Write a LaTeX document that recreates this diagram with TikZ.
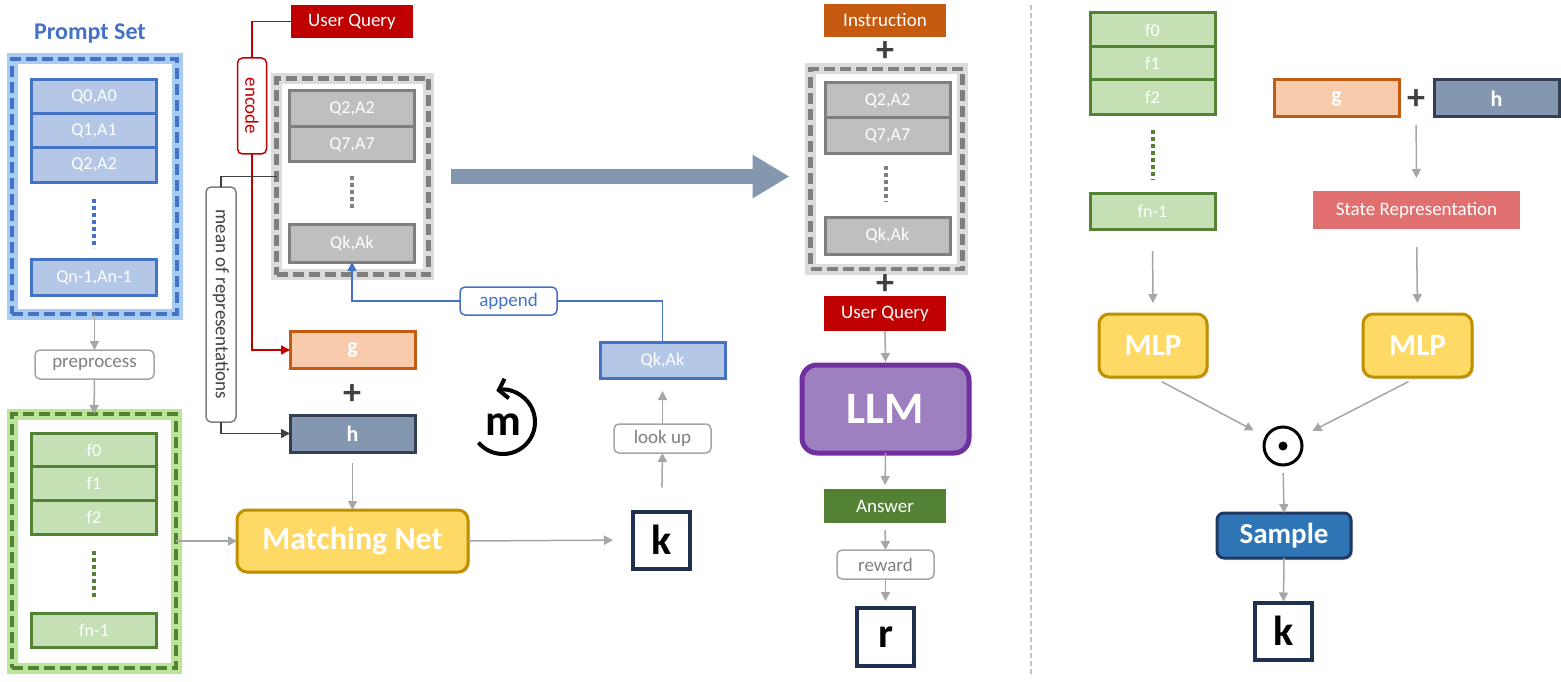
\documentclass[tikz,border=0pt]{standalone}
\usepackage{fontspec}
\usepackage{graphicx}
\setmainfont{Carlito}
\usetikzlibrary{arrows.meta,shadows}
\definecolor{cblue}{HTML}{4472C4}
\definecolor{cbluel}{HTML}{B4C7E7}
\definecolor{cblueg}{HTML}{A9CDF0}
\definecolor{cgreen}{HTML}{548235}
\definecolor{cgreenl}{HTML}{C5E0B4}
\definecolor{cgreeng}{HTML}{BCE59A}
\definecolor{cgray}{HTML}{7F7F7F}
\definecolor{cgrayl}{HTML}{BFBFBF}
\definecolor{cgrayg}{HTML}{DCDCDC}
\definecolor{cred}{HTML}{C00000}
\definecolor{corange}{HTML}{C55A11}
\definecolor{cgfill}{HTML}{F8CBAD}
\definecolor{chfill}{HTML}{8497B0}
\definecolor{chdraw}{HTML}{333F50}
\definecolor{cyel}{HTML}{FFD966}
\definecolor{cyeld}{HTML}{BF9000}
\definecolor{cllm}{HTML}{9E80C0}
\definecolor{cllmd}{HTML}{7030A0}
\definecolor{cstate}{HTML}{E07070}
\definecolor{csample}{HTML}{2E75B6}
\definecolor{csampled}{HTML}{1F3864}
\definecolor{cnavy}{HTML}{1F3050}
\definecolor{carrow}{HTML}{A6A6A6}
\definecolor{cdark}{HTML}{404040}
\definecolor{csep}{HTML}{BFC5CE}
\begin{document}
\begin{tikzpicture}[x=1pt,y=-1pt,
  base/.style={inner sep=0pt, outer sep=0pt},
  item/.style={base, line width=3pt, minimum width=125, minimum height=34, text=white, font=\fontsize{18}{20}\selectfont},
  qb/.style={item, draw=cblue, fill=cbluel},
  fb/.style={item, draw=cgreen, fill=cgreenl},
  sb/.style={item, draw=cgray, fill=cgrayl},
  tagbox/.style={base, fill=#1, text=white, minimum width=122, minimum height=34, font=\fontsize{19}{22}\selectfont},
  lbl/.style 2 args={base, draw=#1, text=#2, fill=white, rounded corners=5pt, line width=1.5pt, font=\fontsize{19}{22}\selectfont},
  dframe/.style 2 args={base, draw=#1, line width=4.5pt, dash pattern=on 11pt off 5pt, preaction={draw=#2, line width=11pt, solid}},
  ghbox/.style 2 args={base, fill=#1, draw=#2, line width=3pt, minimum width=125, minimum height=37, text=white, font=\bfseries\fontsize{22}{24}\selectfont},
  keybox/.style={base, draw=cnavy, line width=4pt, fill=white, minimum width=57, minimum height=57, font=\bfseries\fontsize{42}{44}\selectfont},
  bignet/.style 2 args={base, fill=#1, draw=#2, line width=3pt, rounded corners=10pt, text=white, drop shadow={opacity=0.25, shadow xshift=2pt, shadow yshift=-2pt}},
  garrow/.style={draw=carrow, line width=1.5pt, -{Triangle[length=9pt,width=9pt]}},
  cline/.style={draw=#1, line width=1.5pt},
  carr/.style={draw=#1, line width=1.5pt, -{Triangle[length=9pt,width=9pt]}},
  plus/.style={base, text=cdark, font=\bfseries\fontsize{36}{36}\selectfont},
  dotsl/.style={line width=4pt, dash pattern=on 4pt off 3pt}
]
\useasboundingbox (0,0) rectangle (1561,682);

% ---------------- left: prompt set ----------------
\node[base, font=\bfseries\fontsize{24}{26}\selectfont, text=cblue] (title) at (90,34) {Prompt Set};
\node[dframe={cblue}{cblueg}, minimum width=165, minimum height=255] (pset) at (94.5,186.5) {};
\node[qb] (q0) at (94,97) {Q0,A0};
\node[qb] (q1) at (94,131) {Q1,A1};
\node[qb] (q2) at (94,165) {Q2,A2};
\draw[cblue, dotsl] (94,199) -- (94,248);
\node[qb, minimum height=36] (qn) at (94,277.5) {Qn-1,An-1};

\node[lbl={carrow}{cgray}, minimum width=119, minimum height=29] (pre) at (94.5,364.5) {preprocess};

\node[dframe={cgreen}{cgreeng}, minimum width=164, minimum height=254] (fset) at (94,541) {};
\node[fb] (f0) at (94,450) {f0};
\node[fb] (f1) at (94,483.5) {f1};
\node[fb] (f2) at (94,517.5) {f2};
\draw[cgreen, dotsl] (94,551) -- (94,598);
\node[fb] (fn) at (94,630) {fn-1};

\draw[garrow] (pset.south) -- (pre.north);
\draw[garrow] (pre.south) -- (fset.north);

% ---------------- left: selection ----------------
\node[tagbox=cred, minimum height=33] (uq1) at (352,21.5) {User Query};
\node[lbl={cred}{cred}, minimum width=29, minimum height=96] (enc) at (252,106) {\rotatebox{-90}{encode}};
\node[dframe={cgray}{cgrayg}, minimum width=152, minimum height=196] (sel) at (352.5,176.5) {};
\node[sb, minimum height=36] (s1) at (352,109) {Q2,A2};
\node[sb, minimum height=35] (s2) at (352,144.5) {Q7,A7};
\draw[cgray, dotsl] (352,176) -- (352,210);
\node[sb, minimum height=38] (sk) at (352,243) {Qk,Ak};
\node[lbl={cgray}{cdark}, minimum width=30, minimum height=235] (mean) at (221,304.5) {\rotatebox{-90}{mean of representations}};

\node[ghbox={cgfill}{corange}] (g) at (352.5,350) {g};
\node[plus] (plus1) at (352,395) {+};
\node[ghbox={chfill}{chdraw}] (h) at (352.5,433.5) {h};
\node[bignet={cyel}{cyeld}, minimum width=231, minimum height=62, font=\bfseries\fontsize{32}{34}\selectfont] (match) at (352.5,541) {Matching Net};

\draw[cline=cred] (uq1.west) -| (enc.north);
\draw[carr=cred] (enc.south) |- (g.west);
\draw[cline=cdark] (sel.west) -| (mean.north);
\draw[carr=cdark] (mean.south) |- (h.west);
\draw[garrow, shorten <=11pt] (h.south) -- (match.north);
\draw[garrow] (fset.east) -- (match.west);

% loop symbol
\begin{scope}[shift={(503,422)}, y=1pt]
  \draw[line width=4pt, -{Straight Barb[length=8pt,width=20pt]}] (220:32) arc[start angle=220, end angle=462, radius=32];
  \node[base, font=\bfseries\fontsize{44}{44}\selectfont] (mloop) at (0,-3) {m};
\end{scope}

\node[qb, minimum height=36] (qks) at (662.5,360) {Qk,Ak};
\node[lbl={cblue}{cblue}, minimum width=97, minimum height=28] (app) at (508.5,301) {append};
\node[lbl={carrow}{cgray}, minimum width=97, minimum height=29] (look) at (662.5,438.5) {look up};
\node[keybox] (k1) at (661.5,540) {k};

\draw[cline=cblue] (qks.north) |- (app.east);
\draw[carr=cblue] (app.west) -| (sk.south);
\draw[garrow, shorten >=20pt] (match.east) -- (k1.west);
\draw[garrow, shorten <=24pt] (k1.north) -- (look.south);
\draw[garrow, shorten >=13pt] (look.north) -- (qks.south);

% ---------------- middle ----------------
\node[tagbox=corange, minimum height=33] (instr) at (885,20.5) {Instruction};
\node[plus] (plus2) at (885,52) {+};
\node[dframe={cgray}{cgrayg}, minimum width=152, minimum height=200] (mid) at (886.5,169) {};
\node[sb, minimum height=35] (m1) at (887.5,100.5) {Q2,A2};
\node[sb, minimum height=36] (m2) at (887.5,136) {Q7,A7};
\draw[cgray, dotsl] (886,166) -- (886,202);
\node[sb, minimum height=37] (mk) at (887.5,235.5) {Qk,Ak};
\node[plus] (plus3) at (885,285) {+};
\node[tagbox=cred, minimum height=35] (uq2) at (885,313.5) {User Query};
\node[bignet={cllm}{cllmd}, line width=5pt, rounded corners=15pt, minimum width=167, minimum height=88, font=\bfseries\fontsize{45}{46}\selectfont] (llm) at (885.5,409) {LLM};
\node[tagbox=cgreen] (ans) at (885,506) {Answer};
\node[lbl={carrow}{cgray}, minimum width=97, minimum height=29] (rew) at (885.5,564.5) {reward};
\node[keybox, minimum height=58] (r) at (885.5,637) {r};

\draw[line width=15pt, draw=chfill, -{Triangle[length=37pt,width=41pt]}, shorten <=22.5pt, shorten >=21pt] (sel.east |- 0,176.5) -- (mid.west |- 0,176.5);

\draw[garrow, shorten >=3pt] (uq2.south) -- (llm.north);
\draw[garrow, shorten >=4pt] (llm.south) -- (ans.north);
\draw[garrow, shorten <=7pt] (ans.south) -- (rew.north);
\draw[garrow, shorten >=7pt] (rew.south) -- (r.north);

% separator
\draw[csep, line width=2pt, dash pattern=on 5pt off 3pt] (1031,5) -- (1031,677);

% ---------------- right ----------------
\node[fb] (rf0) at (1152.5,30) {f0};
\node[fb, minimum height=33] (rf1) at (1152.5,63.5) {f1};
\node[fb, minimum height=35] (rf2) at (1152.5,97.5) {f2};
\draw[cgreen, dotsl] (1153,130) -- (1153,180);
\node[fb, minimum height=36] (rfn) at (1152.5,211) {fn-1};

\node[ghbox={cgfill}{corange}] (g2) at (1336.5,98.5) {g};
\node[plus] (plus4) at (1416,100) {+};
\node[ghbox={chfill}{chdraw}] (h2) at (1496.5,98.5) {h};
\node[tagbox=cstate, minimum width=207, minimum height=38] (state) at (1416.5,210) {State Representation};

\node[bignet={cyel}{cyeld}, minimum width=108, minimum height=63, font=\bfseries\fontsize{31}{32}\selectfont] (mlp1) at (1153,345.5) {MLP};
\node[bignet={cyel}{cyeld}, minimum width=109, minimum height=63, font=\bfseries\fontsize{31}{32}\selectfont] (mlp2) at (1417.5,345.5) {MLP};
\node[base, circle, draw=black, line width=3pt, minimum size=38] (odot) at (1283,446) {};
\fill (odot.center) circle (4.5);
\node[bignet={csample}{csampled}, rounded corners=7pt, minimum width=134, minimum height=45, font=\bfseries\fontsize{29}{30}\selectfont] (samp) at (1284,535.5) {Sample};
\node[keybox] (k2) at (1283.5,631) {k};

\draw[garrow, shorten <=22pt, shorten >=11pt] (rfn.south) -- (mlp1.north);
\draw[garrow, shorten <=25pt, shorten >=13pt] (plus4.center) -- (state.north);
\draw[garrow, shorten <=18pt, shorten >=11pt] (state.south) -- (mlp2.north);
\draw[garrow, shorten <=10pt, shorten >=14pt] (mlp1.south) -- (odot);
\draw[garrow, shorten <=10pt, shorten >=14pt] (mlp2.south) -- (odot);
\draw[garrow, shorten <=8pt] (odot.south) -- (samp.north);
\draw[garrow, shorten >=1pt] (samp.south) -- (k2.north);
\end{tikzpicture}
\end{document}
